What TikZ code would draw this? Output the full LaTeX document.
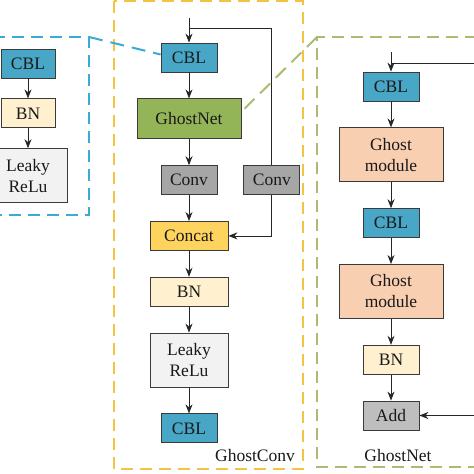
\documentclass[tikz,border=0pt]{standalone}
\usepackage{fontspec}
\setmainfont{Liberation Serif}
\usepackage{xcolor}
\usetikzlibrary{positioning}
\usetikzlibrary{calc}
\usetikzlibrary{arrows.meta}

\definecolor{cblBlue}{HTML}{48A7C6}
\definecolor{bnCream}{HTML}{FFF1CF}
\definecolor{reluGray}{HTML}{F2F2F2}
\definecolor{netGreen}{HTML}{93B558}
\definecolor{convGray}{HTML}{A6A6A6}
\definecolor{catYellow}{HTML}{FFD45E}
\definecolor{ghostPeach}{HTML}{F9CFB2}
\definecolor{addGray}{HTML}{BEBEBE}
\definecolor{edgeGray}{HTML}{3A3A3A}
\definecolor{dashBlue}{HTML}{3BAAD4}
\definecolor{dashYellow}{HTML}{F5C342}
\definecolor{dashGreen}{HTML}{A9BD72}

\begin{document}
\begin{tikzpicture}[
    x=1pt, y=-1pt, % pixel coordinates, y pointing down
    >={Stealth[length=9pt,width=7pt]}, % arrow head style
    node distance=26pt, % vertical spacing
    % Styling for the blocks
    blkNode/.style={
        rectangle,
        draw=edgeGray,
        line width=0.8pt,
        minimum width=56pt,
        minimum height=29pt,
        inner sep=0pt,
        align=center,
        text=black!90,
        font=\fontsize{17.5}{21}\selectfont
    },
    wideNode/.style={blkNode, minimum width=78pt},
    tallNode/.style={blkNode, minimum width=78pt, minimum height=54pt},
    bigNode/.style={blkNode, minimum width=104pt, minimum height=54pt},
    flow/.style={->, draw=black!85, line width=0.8pt},
    frame/.style={line width=2pt, dash pattern=on 12pt off 7pt},
    caption/.style={font=\fontsize{17.5}{21}\selectfont, text=black!90}
]
    \useasboundingbox (0,0) rectangle (474,474);
    \clip (0,0) rectangle (474,474);

    % CBL block (left)
    \node[blkNode, fill=cblBlue, minimum width=54pt] (cblL) at (28,63.5) {CBL};
    \node[blkNode, fill=bnCream, minimum width=54pt] (bnL) [below=20pt of cblL] {BN};
    \node[tallNode, fill=reluGray] (reluL) [below=20pt of bnL] {Leaky\\ReLu};

    \draw[flow] (cblL) -- (bnL);
    \draw[flow] (bnL) -- (reluL);

    % GhostConv (middle)
    \node[blkNode, fill=cblBlue] (cblA) at (189,57.5) {CBL};
    \node[blkNode, fill=netGreen, minimum width=104pt, minimum height=40pt] (gnet) [below=of cblA] {GhostNet};
    \node[blkNode, fill=convGray] (convA) [below=of gnet] {Conv};
    \node[blkNode, fill=convGray] (convB) [right=26pt of convA] {Conv};
    \node[wideNode, fill=catYellow] (concat) [below=of convA] {Concat};
    \node[wideNode, fill=bnCream] (bnM) [below=of concat] {BN};
    \node[tallNode, fill=reluGray] (reluM) [below=of bnM] {Leaky\\ReLu};
    \node[blkNode, fill=cblBlue] (cblB) [below=of reluM] {CBL};
    \node[caption] (capConv) at (255,456) {GhostConv};

    \coordinate (inA) at (189,18);
    \coordinate (splitA) at (189,28);

    \draw[flow] (inA) -- (cblA);
    \draw[flow] (cblA) -- (gnet);
    \draw[flow] (gnet) -- (convA);
    \draw[flow] (convA) -- (concat);
    \draw[flow, -] (splitA) -| (convB.north);
    \draw[flow] (convB.south) |- (concat.east);
    \draw[flow] (concat) -- (bnM);
    \draw[flow] (bnM) -- (reluM);
    \draw[flow] (reluM) -- (cblB);

    % GhostNet (right)
    \node[blkNode, fill=cblBlue] (cblC) at (391,86.5) {CBL};
    \node[bigNode, fill=ghostPeach] (ghostA) [below=of cblC] {Ghost\\module};
    \node[blkNode, fill=cblBlue] (cblD) [below=of ghostA] {CBL};
    \node[bigNode, fill=ghostPeach] (ghostB) [below=of cblD] {Ghost\\module};
    \node[blkNode, fill=bnCream] (bnR) [below=of ghostB] {BN};
    \node[blkNode, fill=addGray] (add) [below=of bnR] {Add};
    \node[caption] (capNet) at (398,456) {GhostNet};

    \coordinate (inC) at (391,52);
    \coordinate (splitC) at (391,63);
    \coordinate (skipOut) at (480,63);
    \coordinate (skipIn) at (skipOut |- add.east);

    \draw[flow] (inC) -- (cblC);
    \draw[flow, -] (splitC) -- (skipOut);
    \draw[flow] (cblC) -- (ghostA);
    \draw[flow] (ghostA) -- (cblD);
    \draw[flow] (cblD) -- (ghostB);
    \draw[flow] (ghostB) -- (bnR);
    \draw[flow] (bnR) -- (add);
    \draw[flow] (skipIn) -- (add);

    % Dashed frames
    \draw[frame, draw=dashYellow] (114,1) rectangle (303,469);
    \draw[frame, draw=dashBlue] (-10,215) -| (89,37) -- (-10,37);
    \draw[frame, draw=dashBlue, dash pattern=on 14pt off 8pt] (89,37) -- ($(cblA.west)+(0,-3)$);
    \draw[frame, draw=dashGreen] (480,467) -| (317,37) -- (480,37);
    \draw[frame, draw=dashGreen, dash pattern=on 14pt off 8pt] (317,37) -- ($(gnet.east)+(0,-7)$);

\end{tikzpicture}
\end{document}
